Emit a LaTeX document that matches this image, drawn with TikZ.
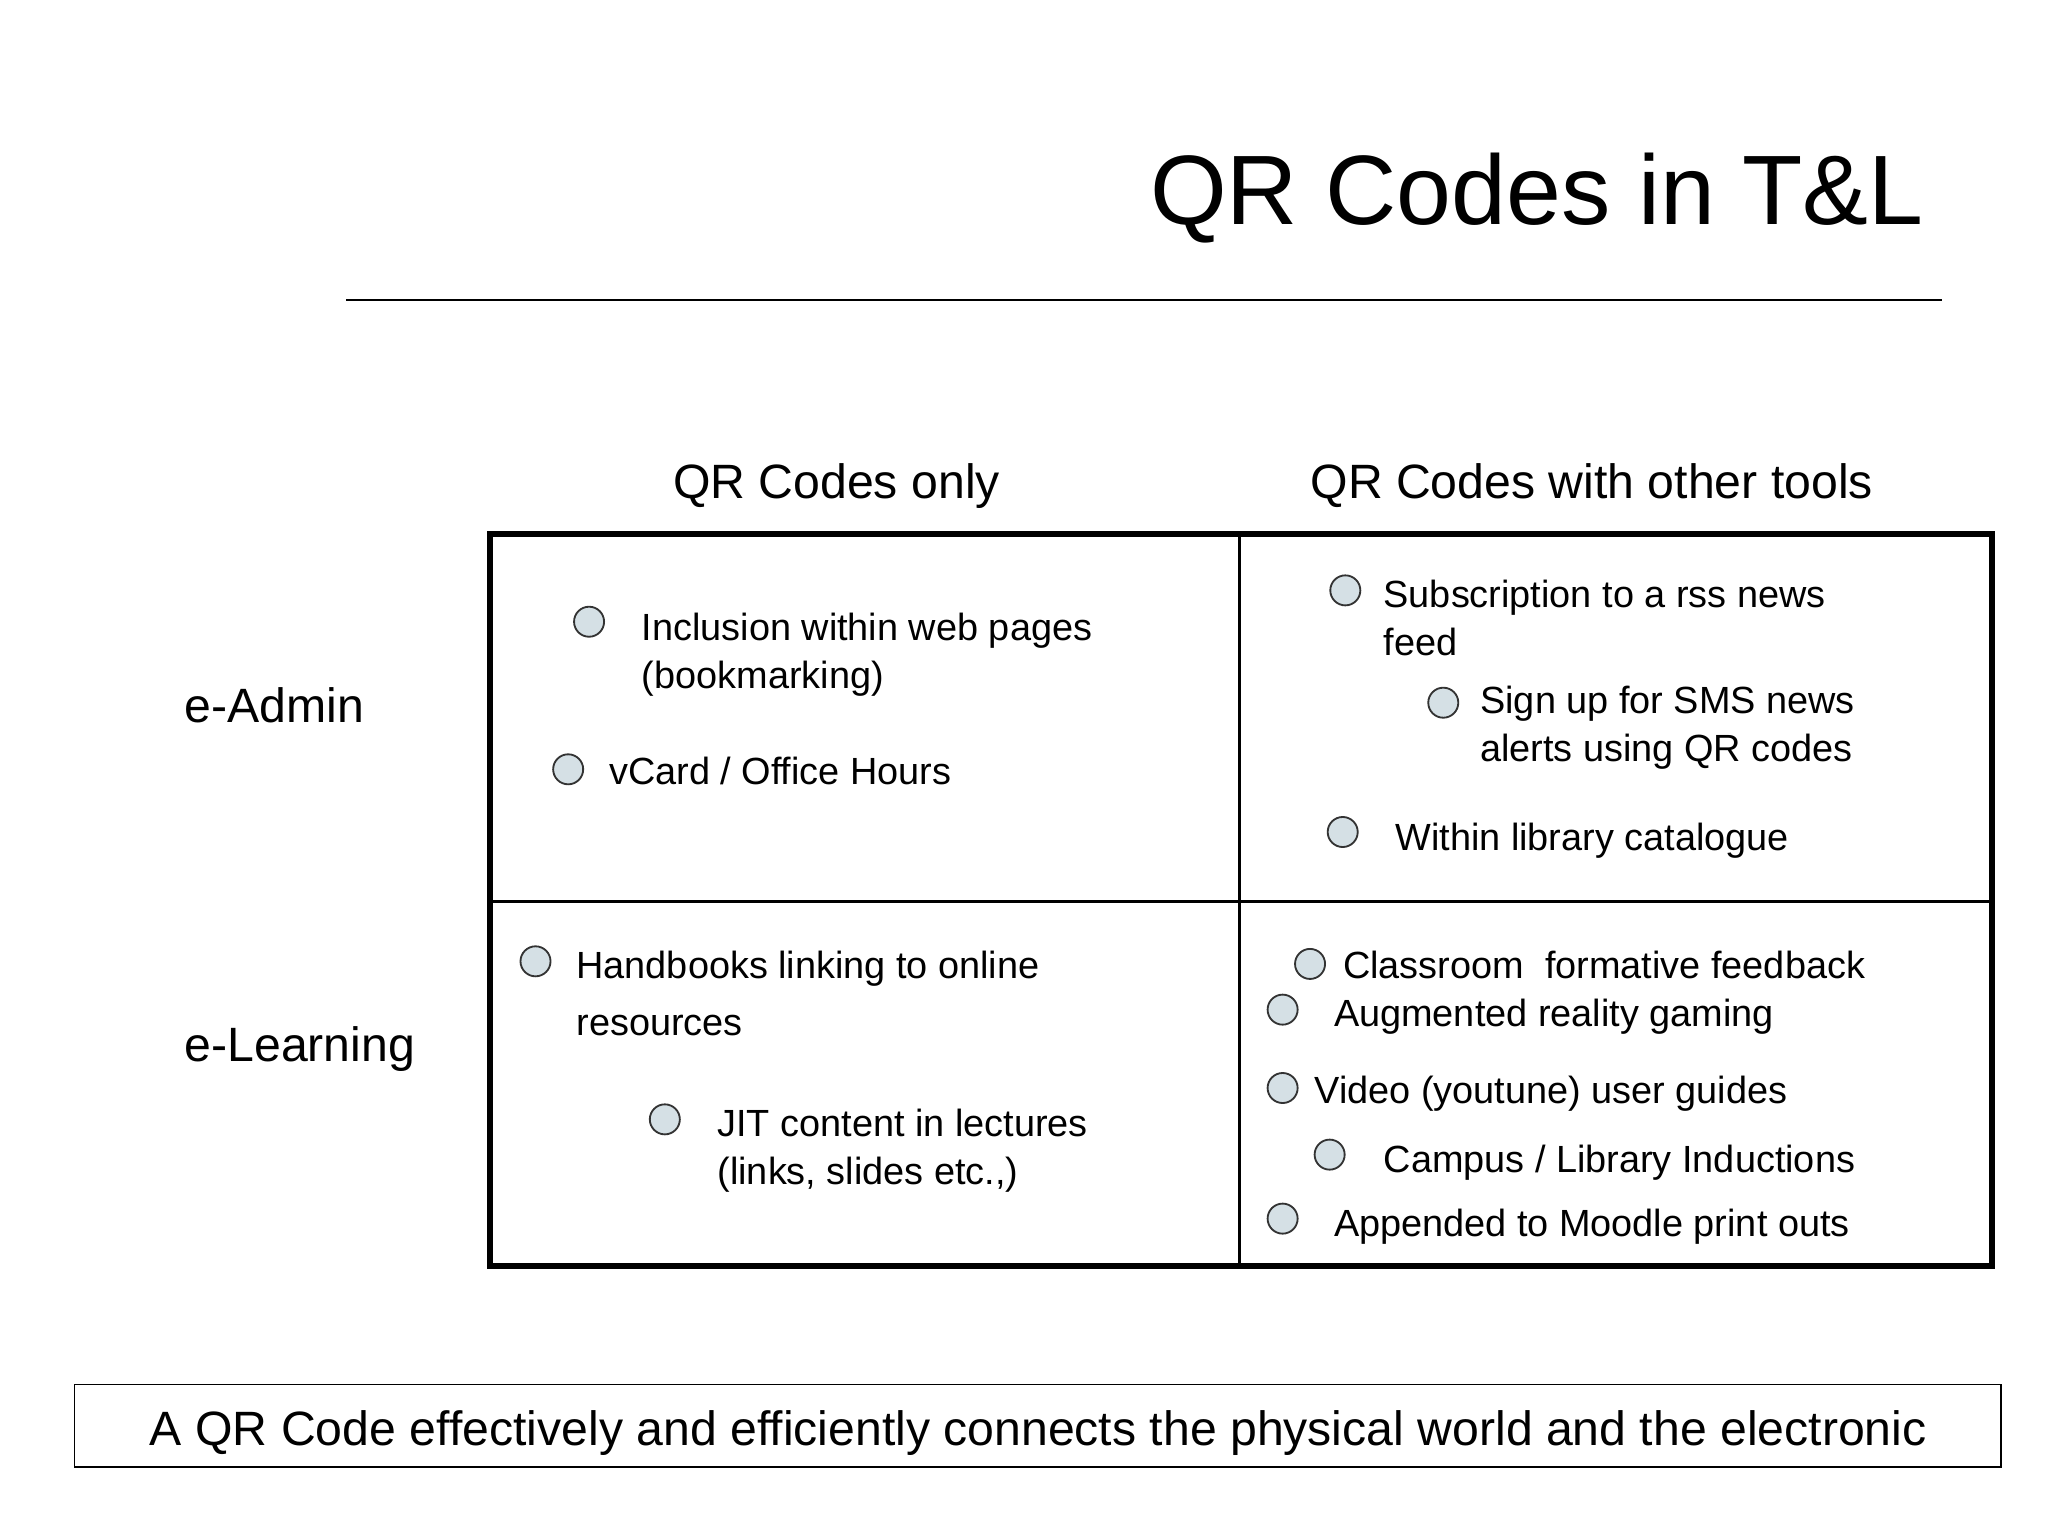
\documentclass[tikz,border=0pt]{standalone}
\usepackage{fontspec}
\setmainfont{Liberation Sans}
\begin{document}
\begin{tikzpicture}[x=0.02cm,y=-0.02cm,
  txt/.style={anchor=base west,inner sep=0pt,font=\fontsize{16.5}{20}\selectfont},
  hd/.style={anchor=base west,inner sep=0pt,font=\fontsize{21}{25}\selectfont},
  bul/.style={circle,draw=black!80,fill=cyan!25!gray!30,minimum size=0.46cm,inner sep=0pt,line width=0.8pt}]
\useasboundingbox (0,0) rectangle (1568,1176);
\node[anchor=base east,inner sep=0pt,font=\fontsize{43}{50}\selectfont] (title) at (1473,172) {QR Codes in T\&L};
\coordinate (r1) at (265,230); \coordinate (r2) at (1487,230);
\draw[line width=0.8pt] (r1) -- (r2);
\node[hd] (h1) at (515,382) {QR Codes only};
\node[hd] (h2) at (1003,382) {QR Codes with other tools};
\node[hd] (l1) at (141,553) {e-Admin};
\node[hd] (l2) at (141,813) {e-Learning};
\coordinate (tl) at (375,409); \coordinate (br) at (1525,969);
\coordinate (m1) at (949,409); \coordinate (m2) at (949,969);
\coordinate (n1) at (375,690); \coordinate (n2) at (1525,690);
\draw[line width=1.2pt] (m1) -- (m2) (n1) -- (n2);
\draw[line width=2.5pt] (tl) rectangle (br);
\node[bul] (b1) at (451,476) {}; \node[txt] (t1) at (491,490) {Inclusion within web pages}; \node[txt] (t1b) at (491,527) {(bookmarking)};
\node[bul] (b2) at (435,589) {}; \node[txt] (t2) at (466,601) {vCard / Office Hours};
\node[bul] (b3) at (1030,452) {}; \node[txt] (t3) at (1059,465) {Subscription to a rss news}; \node[txt] (t3b) at (1059,502) {feed};
\node[bul] (b4) at (1105,538) {}; \node[txt] (t4) at (1133,546) {Sign up for SMS news}; \node[txt] (t4b) at (1133,583) {alerts using QR codes};
\node[bul] (b5) at (1028,637) {}; \node[txt] (t5) at (1068,651) {Within library catalogue};
\node[bul] (b6) at (410,736) {}; \node[txt] (t6) at (441,749) {Handbooks linking to online}; \node[txt] (t6b) at (441,793) {resources};
\node[bul] (b7) at (509,857) {}; \node[txt] (t7) at (549,870) {JIT content in lectures}; \node[txt] (t7b) at (549,907) {(links, slides etc.,)};
\node[bul] (b8) at (1003,738) {}; \node[txt] (t8) at (1028,749) {Classroom\ \ formative feedback};
\node[bul] (b9) at (982,773) {}; \node[txt] (t9) at (1021,786) {Augmented reality gaming};
\node[bul] (b10) at (982,833) {}; \node[txt] (t10) at (1006,845) {Video (youtune) user guides};
\node[bul] (b11) at (1018,884) {}; \node[txt] (t11) at (1059,898) {Campus / Library Inductions};
\node[bul] (b12) at (982,933) {}; \node[txt] (t12) at (1021,947) {Appended to Moodle print outs};
\coordinate (f1) at (57,1060); \coordinate (f2) at (1532,1123);
\draw[line width=0.8pt] (f1) rectangle (f2);
\node[anchor=base,inner sep=0pt,font=\fontsize{21}{25}\selectfont] (foot) at (795,1107) {A QR Code effectively and efficiently connects the physical world and the electronic};
\end{tikzpicture}
\end{document}
